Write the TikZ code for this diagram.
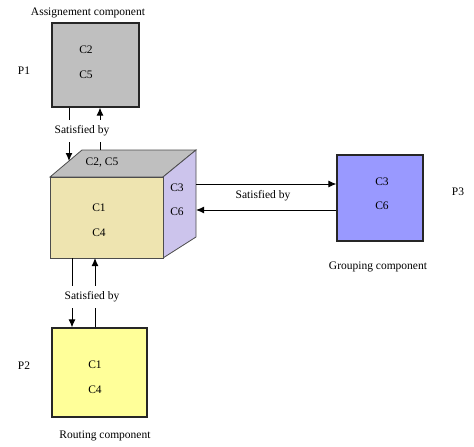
\documentclass[tikz,border=0pt]{standalone}
\usepackage{fontspec}
\setmainfont{Liberation Serif}
\usetikzlibrary{arrows.meta}
\begin{document}
\begin{tikzpicture}[x=1pt,y=-1pt,
  txt/.style={font=\fontsize{11.5}{13}\selectfont, inner sep=1pt},
  box/.style={draw=black!85, line width=1.2pt, inner sep=0pt},
  face/.style={draw=black!70, line width=0.8pt},
  arr/.style={line width=1pt, -{Latex[length=8pt,width=7pt]}},
  satlab/.style={txt, fill=white, inner xsep=2pt, inner ysep=6pt}]
\useasboundingbox (0,0) rectangle (474,447);
% P1 box
\node[box, fill=black!25, minimum width=87, minimum height=84] (p1) at (95.5,65) {};
\node[txt] (p1c2) at (86,50) {C2};
\node[txt] (p1c5) at (86,75) {C5};
\node[txt] (p1lab) at (24,71) {P1};
\node[txt] (p1name) at (88,13) {Assignement component};
% P2 box
\node[box, fill={rgb,255:red,255;green,255;blue,153}, minimum width=95, minimum height=89] (p2) at (99.5,372.5) {};
\node[txt] (p2c1) at (95,365) {C1};
\node[txt] (p2c4) at (95,390) {C4};
\node[txt] (p2lab) at (24,366) {P2};
\node[txt] (p2name) at (105,436) {Routing component};
% P3 box
\node[box, fill={rgb,255:red,153;green,153;blue,255}, minimum width=86, minimum height=86] (p3) at (380,198) {};
\node[txt] (p3c3) at (382,182) {C3};
\node[txt] (p3c6) at (382,206) {C6};
\node[txt] (p3lab) at (458,192) {P3};
\node[txt] (p3name) at (378,267) {Grouping component};
% cube
\coordinate (fa) at (50,177);
\coordinate (fb) at (163,177);
\coordinate (fc) at (163,258);
\coordinate (fd) at (50,258);
\coordinate (ta) at (82,150);
\coordinate (tb) at (196,150);
\coordinate (rb) at (196,237);
\filldraw[face, fill=black!25] (fa) -- (ta) -- (tb) -- (fb) -- cycle;
\filldraw[face, fill={rgb,255:red,204;green,196;blue,236}] (fb) -- (tb) -- (rb) -- (fc) -- cycle;
\filldraw[face, fill={rgb,255:red,238;green,228;blue,176}] (fa) rectangle (fc);
\node[txt] (cc25) at (102,163) {C2, C5};
\node[txt] (cc1) at (99,208) {C1};
\node[txt] (cc4) at (99,233) {C4};
\node[txt] (cc3) at (177,188) {C3};
\node[txt] (cc6) at (177,212) {C6};
% connector endpoints on cube
\coordinate (cTopIn) at (69,161);
\coordinate (cTopOut) at (100,150);
\coordinate (cRightOut) at (196,184);
\coordinate (cRightIn) at (196,210);
\coordinate (cBotOut) at (72,258);
\coordinate (cBotIn) at (95,258);
% connectors
\draw[arr] (p1.south -| cTopIn) -- (cTopIn);
\draw[arr] (cTopOut) -- (p1.south -| cTopOut);
\draw[arr] (cRightOut) -- (p3.west |- cRightOut);
\draw[arr] (p3.west |- cRightIn) -- (cRightIn);
\draw[arr] (cBotOut) -- (p2.north -| cBotOut);
\draw[arr] (p2.north -| cBotIn) -- (cBotIn);
% labels
\node[satlab] (sat1) at (82,131) {Satisfied by};
\node[txt] (sat2) at (263,196) {Satisfied by};
\node[satlab] (sat3) at (92,297) {Satisfied by};
\end{tikzpicture}
\end{document}
